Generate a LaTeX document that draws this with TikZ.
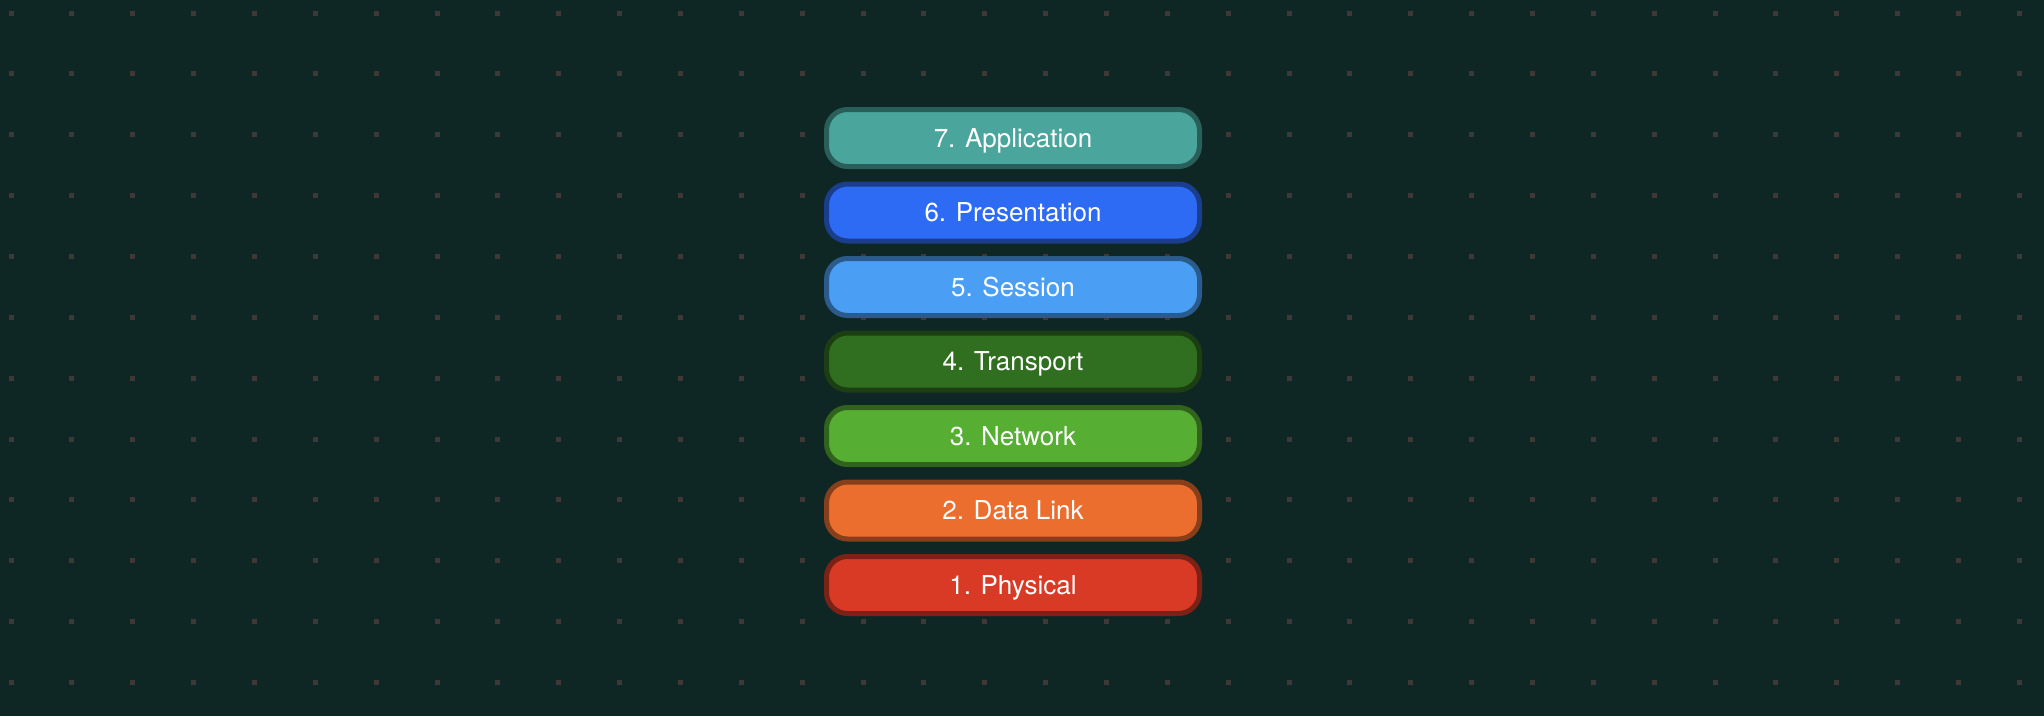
\documentclass[tikz,border=0pt]{standalone}
\usepackage{fontspec}
\setmainfont{TeX Gyre Heros}
\definecolor{bg}{RGB}{15,39,36}
\definecolor{dotc}{RGB}{62,56,55}
\definecolor{cApp}{RGB}{74,166,156}
\definecolor{cPres}{RGB}{45,107,245}
\definecolor{cSess}{RGB}{74,159,245}
\definecolor{cTrans}{RGB}{47,111,31}
\definecolor{cNet}{RGB}{86,174,51}
\definecolor{cData}{RGB}{236,110,47}
\definecolor{cPhys}{RGB}{217,58,38}
\tikzset{
  layer/.style={rectangle, rounded corners=21pt, line width=5pt,
    minimum width=373pt, minimum height=57pt, inner sep=0pt,
    text height=18.6pt, text depth=0pt,
    fill=#1, draw=#1!57!black, text=white,
    font=\fontsize{26}{30}\selectfont},
}
\begin{document}
\begin{tikzpicture}[x=1pt,y=-1pt]
\fill[bg] (0,0) rectangle (2044,716);
\useasboundingbox (0,0) rectangle (2044,716);
\foreach \i in {0,...,33}{
  \foreach \j in {0,...,11}{
    \fill[dotc] ({11+60.86*\i-2.5},{13+60.86*\j-2.5}) rectangle +(5,5);
  }
}
\node[layer=cApp]   (l7) at (1013,138)   {7. Application};
\node[layer=cPres]  (l6) at (1013,212.5) {6. Presentation};
\node[layer=cSess]  (l5) at (1013,287)   {5. Session};
\node[layer=cTrans] (l4) at (1013,361.5) {4. Transport};
\node[layer=cNet]   (l3) at (1013,436)   {3. Network};
\node[layer=cData]  (l2) at (1013,510.5) {2. Data Link};
\node[layer=cPhys]  (l1) at (1013,585)   {1. Physical};
\end{tikzpicture}
\end{document}
